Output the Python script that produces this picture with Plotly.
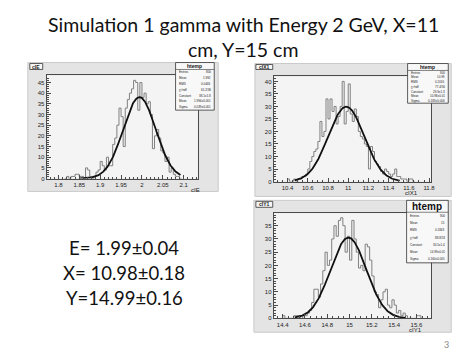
import numpy as np
import plotly.graph_objects as go

W, H = 474, 355

# ---------------- data ----------------
title_lines = ["Simulation 1 gamma with Energy 2 GeV, X=11", "cm, Y=15 cm"]
result_lines = ["E= 1.99±0.04", "X= 10.98±0.18", "Y=14.99±0.16"]
page_number = "3"

# cIE histogram (bin width 0.005)
e_bin_lo = 1.815
e_bin_w = 0.005
e_counts = [0, 1, 0, 1, 1, 2, 2, 1, 1, 0, 5, 4, 1, 0, 1, 3, 4, 8, 6, 4,
            10, 6, 6, 16, 19, 25, 33, 29, 15, 33, 37, 40, 42, 46, 45, 32, 45, 38, 40, 35,
            36, 30, 14, 20, 23, 19, 13, 12, 8, 10, 3, 5, 2, 1, 1, 0]
e_fit = {"const": 38.1, "mean": 1.994, "sigma": 0.039, "lo": 1.851, "hi": 2.092}
e_xticks = [1.8, 1.85, 1.9, 1.95, 2.0, 2.05, 2.1]
e_xlabels = ["1.8", "1.85", "1.9", "1.95", "2", "2.05", "2.1"]
e_yticks = [0, 5, 10, 15, 20, 25, 30, 35, 40, 45]
e_stats = [("Entries", "800"), ("Mean", "1.992"), ("RMS", "0.0446"),
           ("χ²/ndf", "61.2/36"), ("Constant", "38.1±1.8"),
           ("Mean", "1.994±0.001"), ("Sigma", "0.039±0.001")]

# cIX1 histogram (bin width 0.02)
x_bin_lo = 10.40
x_bin_w = 0.02
x_counts = [1, 0, 0, 1, 0, 1, 1, 2, 2, 3, 5, 8, 10, 12, 13, 16, 24, 18, 20, 33,
            25, 33, 28, 30, 23, 26, 30, 40, 23, 28, 39, 27, 24, 29, 26, 20, 18, 17, 15, 14,
            5, 14, 12, 8, 7, 6, 4, 3, 5, 4, 3, 2, 3, 5, 2, 2, 1, 1, 1, 0,
            1, 1, 0]
x_fit = {"const": 29.9, "mean": 10.98, "sigma": 0.178, "lo": 10.47, "hi": 11.51}
x_xticks = [10.4, 10.6, 10.8, 11.0, 11.2, 11.4, 11.6, 11.8]
x_xlabels = ["10.4", "10.6", "10.8", "11", "11.2", "11.4", "11.6", "11.8"]
x_yticks = [0, 5, 10, 15, 20, 25, 30, 35, 40]
x_stats = [("Entries", "800"), ("Mean", "10.99"), ("RMS", "0.2016"),
           ("χ²/ndf", "77.4/56"), ("Constant", "29.9±1.3"),
           ("Mean", "10.98±0.01"), ("Sigma", "0.183±0.006")]

# cIY1 histogram (bin width 0.02)
y_bin_lo = 14.40
y_bin_w = 0.02
y_counts = [1, 0, 0, 0, 0, 1, 1, 1, 0, 1, 1, 2, 3, 6, 11, 11, 8, 13, 18, 25,
            20, 22, 30, 35, 31, 37, 38, 35, 25, 31, 22, 37, 30, 25, 19, 20, 18, 28, 27, 22,
            16, 10, 9, 4, 7, 10, 11, 5, 4, 7, 5, 2, 3, 1, 2, 1, 0, 0, 0, 0,
            1, 1, 0]
y_fit = {"const": 30.5, "mean": 14.99, "sigma": 0.160, "lo": 14.51, "hi": 15.50}
y_xticks = [14.4, 14.6, 14.8, 15.0, 15.2, 15.4, 15.6]
y_xlabels = ["14.4", "14.6", "14.8", "15", "15.2", "15.4", "15.6"]
y_yticks = [0, 5, 10, 15, 20, 25, 30, 35]
y_stats = [("Entries", "800"), ("Mean", "15"), ("RMS", "0.1843"),
           ("χ²/ndf", "88.8/53"), ("Constant", "30.5±1.4"),
           ("Mean", "14.99±0.01"), ("Sigma", "0.160±0.005")]

# ---------------- helpers ----------------
def px(x):
    return x / W

def py(y):
    return 1 - y / H

HIST_COLOR = "#808080"
CANVAS_COLOR = "#e4e4e4"
FRAME_COLOR = "#f4f4f4"
AXIS_COLOR = "#4a4a4a"
TICKFONT = dict(family="Liberation Sans", size=6, color="#222222")

fig = go.Figure()
shapes = []
annotations = []

panels = [
    dict(name="cIE", lo=e_bin_lo, w=e_bin_w, counts=e_counts, fit=e_fit,
         xticks=e_xticks, xlabels=e_xlabels, yticks=e_yticks, stats=e_stats,
         xr=[1.772, 2.135], yr=[0, 48.3], xminor=0.01, yminor=1,
         frame=(39, 68, 192, 172), canvas=(20, 55, 212, 185),
         tbox=(22, 56, 35, 62), sbox=(169, 55, 208, 103), big=False,
         xlabel_pos=(189, 184)),
    dict(name="cIX1", lo=x_bin_lo, w=x_bin_w, counts=x_counts, fit=x_fit,
         xticks=x_xticks, xlabels=x_xlabels, yticks=x_yticks, stats=x_stats,
         xr=[10.263, 11.823], yr=[0, 42], xminor=0.05, yminor=1,
         frame=(268, 69, 427, 175), canvas=(249, 56, 447, 190),
         tbox=(250, 57, 267, 62), sbox=(403, 56, 444, 96), big=False,
         xlabel_pos=(414, 187)),
    dict(name="cIY1", lo=y_bin_lo, w=y_bin_w, counts=y_counts, fit=y_fit,
         xticks=y_xticks, xlabels=y_xlabels, yticks=y_yticks, stats=y_stats,
         xr=[14.32, 15.734], yr=[0, 39.7], xminor=0.05, yminor=1,
         frame=(268, 207, 427, 313), canvas=(248, 194, 447, 327),
         tbox=(250, 195, 267, 201), sbox=(402, 194, 444, 257), big=True,
         xlabel_pos=(419, 324.5)),
]

layout_axes = {}
for i, p in enumerate(panels):
    k = "" if i == 0 else str(i + 1)
    xa, ya = "x" + k, "y" + k
    cx0, cy0, cx1, cy1 = p["canvas"]
    shapes.append(dict(type="rect", xref="paper", yref="paper", layer="below",
                       x0=px(cx0), x1=px(cx1), y0=py(cy1), y1=py(cy0),
                       fillcolor=CANVAS_COLOR, line=dict(color="#cacaca", width=1)))
    fx0, fy0, fx1, fy1 = p["frame"]
    shapes.append(dict(type="rect", xref="paper", yref="paper", layer="below",
                       x0=px(fx0), x1=px(fx1), y0=py(fy1), y1=py(fy0),
                       fillcolor=FRAME_COLOR, line=dict(width=0)))

    # histogram as step outline
    n = len(p["counts"])
    edges = p["lo"] + p["w"] * np.arange(n + 1)
    hx = np.concatenate([[edges[0]], edges])
    hy = np.concatenate([[0], p["counts"], [0]])
    fig.add_trace(go.Scatter(x=hx, y=hy, mode="lines", line_shape="hv",
                             line=dict(color=HIST_COLOR, width=1),
                             xaxis=xa, yaxis=ya, showlegend=False, hoverinfo="skip"))
    # gaussian fit function from fit parameters
    f = p["fit"]
    fx = np.linspace(f["lo"], f["hi"], 200)
    fy = f["const"] * np.exp(-0.5 * ((fx - f["mean"]) / f["sigma"]) ** 2)
    fig.add_trace(go.Scatter(x=fx, y=fy, mode="lines",
                             line=dict(color="#111111", width=1.8),
                             xaxis=xa, yaxis=ya, showlegend=False, hoverinfo="skip"))

    axis_common = dict(showline=True, mirror=True, linecolor=AXIS_COLOR, linewidth=1,
                       ticks="inside", ticklen=4, tickcolor=AXIS_COLOR, tickwidth=1,
                       showgrid=False, zeroline=False, tickfont=TICKFONT, ticklabelstandoff=0)
    layout_axes["xaxis" + k] = dict(axis_common, domain=[px(fx0), px(fx1)], range=p["xr"],
                                    anchor=ya, tickmode="array", tickvals=p["xticks"],
                                    ticktext=p["xlabels"],
                                    minor=dict(ticks="inside", ticklen=2, tick0=p["xticks"][0],
                                               dtick=p["xminor"], tickcolor=AXIS_COLOR))
    layout_axes["yaxis" + k] = dict(axis_common, domain=[py(fy1), py(fy0)], range=p["yr"],
                                    anchor=xa, tickmode="array", tickvals=p["yticks"],
                                    ticktext=[str(v) for v in p["yticks"]],
                                    minor=dict(ticks="inside", ticklen=2, tick0=0,
                                               dtick=p["yminor"], tickcolor=AXIS_COLOR))

    lx, ly = p["xlabel_pos"]
    annotations.append(dict(text=p["name"], x=px(lx), y=py(ly), xref="paper", yref="paper",
                            showarrow=False, xanchor="right" if i > 0 else "center",
                            yanchor="middle", borderpad=0,
                            font=dict(family="Liberation Sans", size=6, color="#222222")))

    # title box
    tx0, ty0, tx1, ty1 = p["tbox"]
    shapes.append(dict(type="rect", xref="paper", yref="paper",
                       x0=px(tx0), x1=px(tx1), y0=py(ty1), y1=py(ty0),
                       fillcolor="#f6f6f6", line=dict(color="#333333", width=0.8)))
    annotations.append(dict(text="<b>" + p["name"] + "</b>", x=px((tx0 + tx1) / 2),
                            y=py((ty0 + ty1) / 2), xref="paper", yref="paper",
                            showarrow=False, xanchor="center", yanchor="middle", borderpad=0,
                            font=dict(family="Liberation Sans", size=5, color="#222222")))

    # stats box
    sx0, sy0, sx1, sy1 = p["sbox"]
    shapes.append(dict(type="rect", xref="paper", yref="paper",
                       x0=px(sx0), x1=px(sx1), y0=py(sy1), y1=py(sy0),
                       fillcolor="#f8f8f8", line=dict(color="#333333", width=0.8)))
    head_h = 12 if p["big"] else 7
    shapes.append(dict(type="line", xref="paper", yref="paper",
                       x0=px(sx0), x1=px(sx1), y0=py(sy0 + head_h), y1=py(sy0 + head_h),
                       line=dict(color="#333333", width=0.6)))
    annotations.append(dict(text="<b>htemp</b>", x=px((sx0 + sx1) / 2),
                            y=py(sy0 + head_h / 2), xref="paper", yref="paper",
                            showarrow=False, xanchor="center", yanchor="middle", borderpad=0,
                            font=dict(family="Liberation Sans", size=10 if p["big"] else 5,
                                      color="#111111")))
    row_h = (sy1 - sy0 - head_h) / len(p["stats"])
    for j, (lab, val) in enumerate(p["stats"]):
        yy = sy0 + head_h + row_h * (j + 0.5)
        annotations.append(dict(text=lab, x=px(sx0 + 2), y=py(yy), xref="paper", yref="paper",
                                showarrow=False, xanchor="left", yanchor="middle", borderpad=0,
                                font=dict(family="Liberation Sans", size=3, color="#222222")))
        annotations.append(dict(text=val, x=px(sx1 - 2), y=py(yy), xref="paper", yref="paper",
                                showarrow=False, xanchor="right", yanchor="middle", borderpad=0,
                                font=dict(family="Liberation Sans", size=3, color="#222222")))

# slide title
for text, yy in zip(title_lines, [17, 42]):
    annotations.append(dict(text=text, x=px(237), y=py(yy), xref="paper", yref="paper",
                            showarrow=False, xanchor="center", yanchor="middle",
                            font=dict(family="Lato", size=19.5, color="#111111")))
# results text
for text, yy in zip(result_lines, [242, 267, 292]):
    annotations.append(dict(text=text, x=px(117), y=py(yy), xref="paper", yref="paper",
                            showarrow=False, xanchor="center", yanchor="middle",
                            font=dict(family="Lato", size=18.5, color="#111111")))
annotations.append(dict(text=page_number, x=px(442), y=py(339), xref="paper", yref="paper",
                        showarrow=False, xanchor="center", yanchor="middle",
                        font=dict(family="Lato", size=9, color="#8a8a8a")))

fig.update_layout(width=W, height=H, margin=dict(l=0, r=0, t=0, b=0),
                  paper_bgcolor="white", plot_bgcolor="rgba(0,0,0,0)",
                  shapes=shapes, annotations=annotations, showlegend=False,
                  **layout_axes)

fig.write_html("out.html")
